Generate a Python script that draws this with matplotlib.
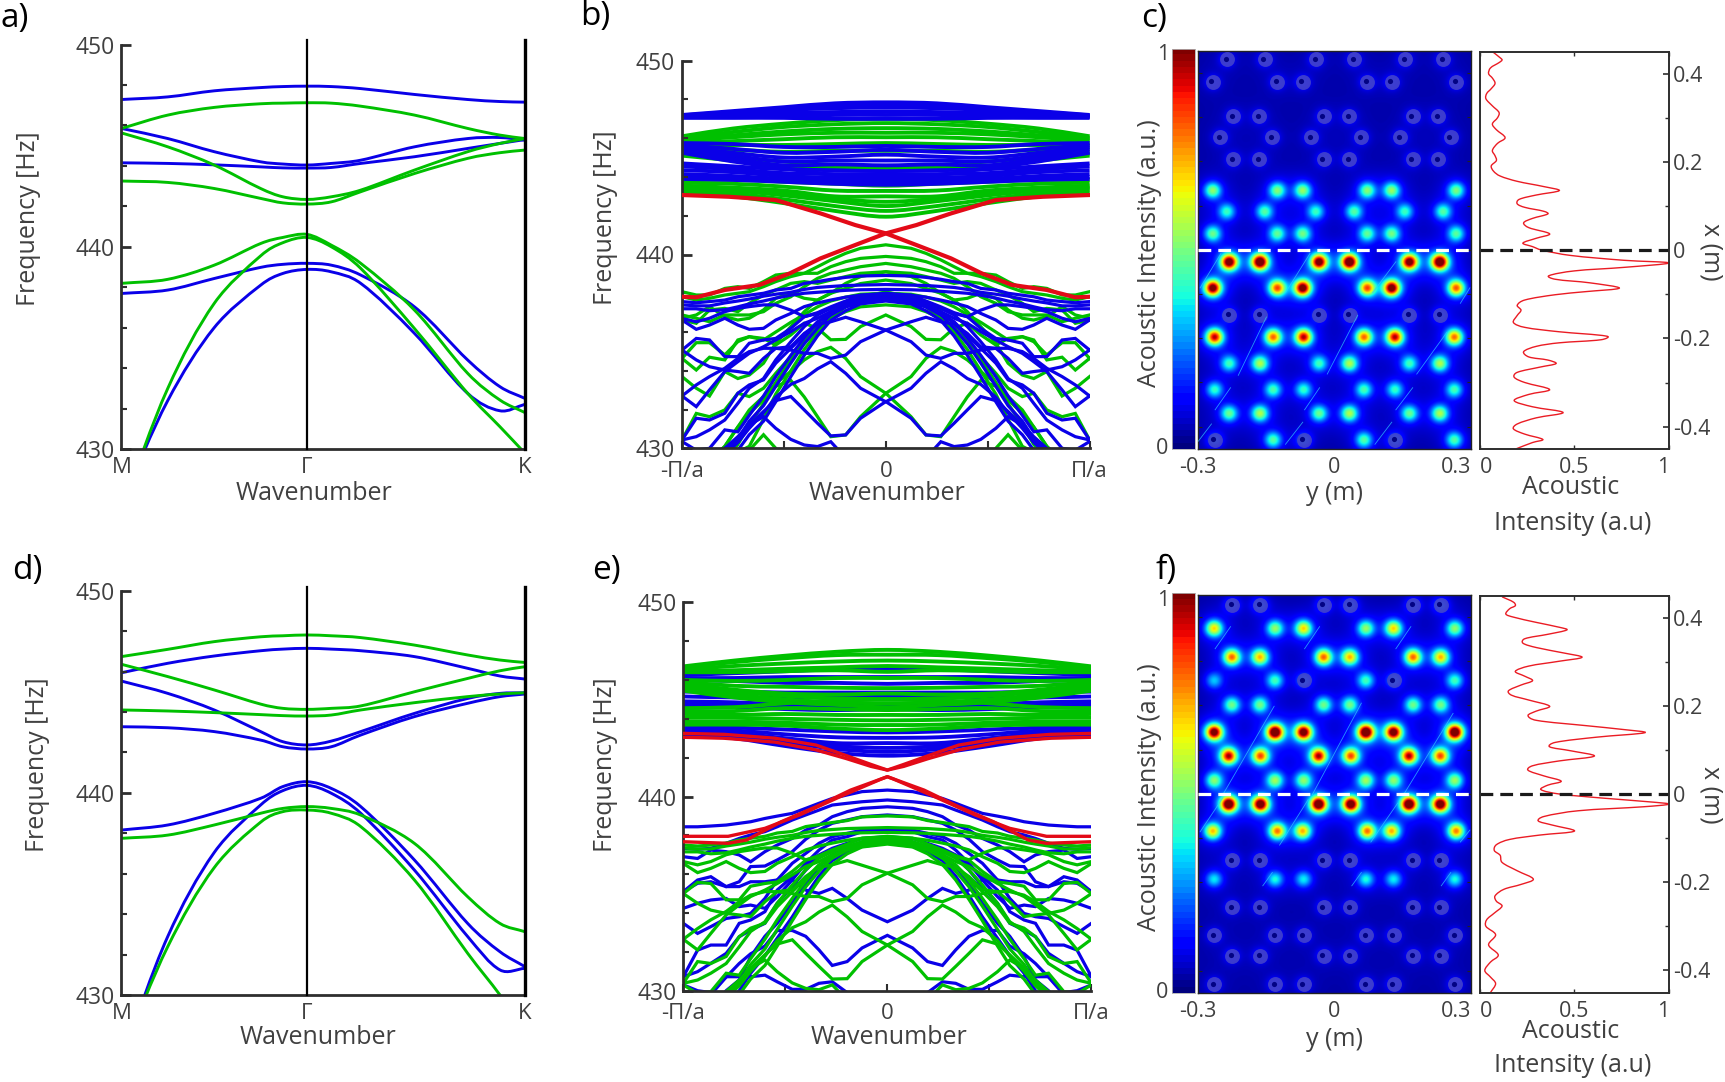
import numpy as np
import matplotlib
matplotlib.use("Agg")
import matplotlib.pyplot as plt
from matplotlib.path import Path
from matplotlib.patches import PathPatch

plt.rcParams['font.family'] = ['Open Sans', 'DejaVu Sans']

W, H = 1725, 1082
BLUE = '#0a00e8'
GREEN = '#00c000'
RED = '#e30a17'
TEXT = '#404040'
DARK = '#2e2e2e'

# --- bulk bands, panels a and d (M -> Gamma -> K) ---
ak = [0, .115, .23, .345, .40, .46, .52, .593, .726, .858, .938, 1]
a_blue = [
    [447.28, 447.41, 447.71, 447.87, 447.92, 447.94, 447.92, 447.82, 447.53, 447.28, 447.18, 447.15],
    [445.85, 445.35, 444.70, 444.20, 444.09, 444.04, 444.12, 444.28, 444.94, 445.35, 445.40, 445.27],
    [444.15, 444.12, 444.05, 443.95, 443.90, 443.89, 443.92, 444.12, 444.45, 444.86, 445.11, 445.30],
    [437.69, 437.86, 438.43, 438.98, 439.13, 439.18, 439.09, 438.60, 437.03, 434.40, 433.08, 432.50],
    [427.30, 432.40, 436.00, 438.10, 438.68, 438.88, 438.76, 438.19, 435.72, 432.75, 431.89, 432.21],
]
a_green = [
    [445.85, 446.51, 446.89, 447.07, 447.10, 447.12, 447.10, 446.95, 446.51, 445.85, 445.52, 445.35],
    [445.63, 444.94, 444.04, 442.88, 442.47, 442.34, 442.47, 442.80, 443.79, 444.70, 445.11, 445.35],
    [443.25, 443.18, 442.88, 442.39, 442.17, 442.11, 442.22, 442.72, 443.62, 444.37, 444.65, 444.78],
    [438.19, 438.39, 439.09, 440.16, 440.46, 440.61, 440.08, 439.18, 436.87, 433.74, 432.42, 431.80],
    [427.00, 433.00, 437.20, 439.55, 440.20, 440.46, 440.00, 438.93, 435.96, 432.75, 431.10, 429.79],
]
d_blue = [
    [445.94, 446.41, 446.77, 447.03, 447.11, 447.15, 447.11, 447.03, 446.74, 446.16, 445.78, 445.63],
    [445.53, 444.92, 444.10, 443.03, 442.53, 442.37, 442.56, 443.03, 443.93, 444.67, 444.92, 444.95],
    [443.27, 443.22, 443.03, 442.61, 442.28, 442.17, 442.28, 442.86, 443.77, 444.43, 444.76, 444.89],
    [438.16, 438.41, 438.99, 439.73, 440.31, 440.55, 440.22, 439.32, 436.68, 433.54, 432.14, 431.40],
    [426.80, 432.90, 437.05, 439.40, 440.11, 440.37, 439.98, 438.99, 436.18, 432.89, 431.24, 431.32],
]
d_green = [
    [446.74, 447.10, 447.48, 447.72, 447.77, 447.81, 447.77, 447.68, 447.31, 446.82, 446.57, 446.45],
    [446.36, 445.75, 445.09, 444.39, 444.18, 444.13, 444.18, 444.30, 445.00, 445.66, 446.04, 446.24],
    [444.10, 444.05, 443.97, 443.87, 443.82, 443.80, 443.85, 444.10, 444.46, 444.76, 444.89, 444.95],
    [437.75, 437.91, 438.41, 438.99, 439.23, 439.32, 439.23, 438.90, 437.50, 434.86, 433.54, 433.13],
    [427.00, 432.40, 436.30, 438.55, 439.07, 439.15, 438.99, 438.33, 435.69, 432.06, 430.00, 428.20],
]

# --- supercell bands, panels b and e: half zone, mirrored when drawn ---
upper_k = [-1, -.75, -.5, -.25, 0]
lower_k = [-1, -.93, -.865, -.79, -.726, -.67, -.60, -.54, -.466, -.40, -.335, -.27, -.197, -.124, 0]

b_upper_green = [
    [446.10, 446.50, 446.75, 446.93, 447.00], [446.02, 446.32, 446.58, 446.72, 446.78],
    [445.95, 446.15, 446.35, 446.48, 446.52], [445.88, 446.05, 446.20, 446.28, 446.28],
    [445.75, 445.85, 445.95, 446.05, 446.05], [445.60, 445.65, 445.65, 445.70, 445.75],
    [445.40, 445.40, 445.30, 445.35, 445.35],
    [445.20, 445.00, 444.80, 444.60, 444.50], [445.10, 444.85, 444.55, 444.45, 444.35],
    [443.85, 443.85, 443.75, 443.65, 443.55], [443.70, 443.65, 443.50, 443.30, 443.28],
    [443.55, 443.45, 443.30, 443.00, 443.00], [443.48, 443.38, 443.18, 442.88, 442.72],
    [443.40, 443.30, 443.05, 442.75, 442.50], [443.30, 443.15, 442.85, 442.50, 442.25],
    [443.20, 443.00, 442.65, 442.25, 441.95],
]
b_upper_blue = [
    [447.20, 447.40, 447.60, 447.80, 447.85], [447.18, 447.35, 447.52, 447.68, 447.72],
    [447.15, 447.30, 447.45, 447.55, 447.58], [447.10, 447.20, 447.30, 447.35, 447.38],
    [447.10, 447.15, 447.15, 447.20, 447.20], [447.05, 447.05, 447.05, 447.00, 447.00],
    [445.75, 445.70, 445.55, 445.55, 445.60], [445.65, 445.45, 445.25, 445.30, 445.40],
    [445.55, 445.25, 445.00, 445.05, 445.15], [445.45, 445.10, 444.80, 444.85, 444.85],
    [445.30, 444.95, 444.60, 444.65, 444.60], [445.25, 444.80, 444.45, 444.10, 443.95],
    [444.70, 444.55, 444.40, 444.35, 444.30], [444.55, 444.40, 444.20, 444.15, 444.15],
    [444.35, 444.25, 444.05, 443.95, 443.92], [444.15, 444.05, 443.90, 443.80, 443.78],
    [444.00, 443.90, 443.80, 443.70, 443.65], [443.90, 443.85, 443.75, 443.65, 443.60],
]
b_lower_green = [
    [438.08, 437.91, 437.91, 438.25, 438.34, 438.25, 438.60, 438.94, 439.03, 439.03, 439.37, 439.72, 440.06, 440.32, 440.50],
    [437.82, 437.65, 437.74, 437.91, 438.00, 438.08, 438.34, 438.60, 438.86, 439.03, 439.03, 439.37, 439.63, 439.80, 439.90],
    [436.88, 436.71, 436.53, 436.88, 436.88, 436.88, 437.05, 437.48, 437.82, 438.34, 438.77, 439.03, 439.20, 439.37, 439.54],
    [436.71, 436.88, 437.31, 436.79, 436.62, 436.71, 437.14, 437.74, 438.00, 437.74, 437.65, 438.00, 438.51, 438.86, 439.11],
    [434.64, 435.45, 435.45, 434.82, 435.50, 435.76, 435.67, 435.33, 435.85, 436.45, 436.20, 435.60, 435.62, 436.28, 436.88],
    [428.70, 428.90, 429.40, 430.10, 431.10, 431.98, 432.67, 433.35, 433.96, 434.56, 434.99, 435.21, 434.64, 433.70, 432.84],
    [427.00, 427.00, 427.00, 428.00, 429.00, 429.90, 430.70, 430.00, 429.00, 428.00, 428.00, 428.00, 428.00, 428.00, 428.00],
    [428.00, 428.50, 429.20, 430.10, 431.10, 431.80, 432.50, 433.20, 433.50, 432.65, 431.63, 430.60, 430.69, 431.63, 432.84],
    [430.43, 431.80, 431.63, 431.98, 432.84, 432.67, 433.10, 433.87, 434.73, 435.42, 436.20, 436.70, 437.05, 437.30, 437.40],
    [433.70, 433.10, 432.70, 433.96, 433.60, 433.78, 434.39, 435.42, 436.28, 437.05, 437.65, 438.00, 438.25, 438.50, 438.68],
    [427.00, 428.00, 429.00, 429.50, 429.80, 430.10, 431.50, 432.80, 434.00, 435.10, 436.00, 436.70, 437.30, 437.80, 438.05],
    [426.50, 427.50, 428.50, 429.40, 430.20, 431.20, 432.30, 433.40, 434.60, 435.60, 436.45, 437.05, 437.50, 437.85, 438.05],
    [436.62, 436.45, 437.14, 437.22, 437.05, 437.48, 437.91, 438.17, 438.51, 438.60, 438.51, 438.68, 438.86, 439.03, 439.11],
    [434.64, 434.04, 434.70, 434.56, 435.59, 435.76, 435.59, 436.00, 436.50, 436.90, 437.30, 437.60, 437.80, 437.95, 438.00],
]
b_lower_blue = [
    [428.50, 428.80, 429.20, 429.70, 430.30, 431.03, 431.83, 432.64, 433.30, 433.60, 434.10, 434.47, 433.87, 433.10, 432.40],
    [428.50, 428.80, 429.20, 430.00, 430.43, 431.20, 431.90, 432.46, 432.67, 431.98, 431.29, 430.64, 430.69, 431.55, 432.41],
    [428.00, 428.50, 429.20, 430.00, 430.60, 431.20, 431.63, 431.03, 430.46, 430.17, 430.09, 430.34, 429.50, 429.00, 428.90],
    [435.07, 435.67, 435.59, 434.73, 434.73, 435.42, 435.59, 435.67, 436.19, 436.79, 436.96, 437.22, 437.48, 437.74, 437.91],
    [435.07, 434.56, 434.21, 434.04, 433.96, 433.87, 434.64, 435.16, 435.24, 435.93, 436.40, 436.53, 436.76, 436.53, 436.10],
    [432.70, 432.15, 433.01, 433.96, 434.47, 434.90, 435.24, 435.59, 436.02, 436.45, 436.71, 437.05, 437.31, 437.48, 437.65],
    [432.70, 433.27, 433.70, 434.13, 434.64, 434.99, 435.16, 435.16, 435.07, 434.90, 434.90, 434.64, 434.81, 435.50, 436.10],
    [430.43, 431.55, 431.46, 431.81, 432.84, 433.27, 433.53, 434.39, 435.16, 435.84, 436.53, 436.88, 437.31, 437.57, 437.65],
    [430.43, 430.60, 430.95, 431.46, 432.32, 433.10, 433.60, 434.56, 435.50, 436.28, 436.88, 437.22, 437.48, 437.65, 437.79],
    [427.00, 428.00, 429.00, 429.75, 430.50, 431.40, 432.20, 433.20, 434.40, 435.40, 436.20, 436.90, 437.30, 437.60, 437.75],
    [426.60, 427.60, 428.40, 429.20, 429.90, 430.70, 431.40, 432.40, 433.70, 434.80, 435.80, 436.60, 437.10, 437.45, 437.60],
    [430.35, 429.90, 430.00, 430.95, 430.85, 431.70, 432.70, 433.70, 434.80, 435.70, 436.50, 437.00, 437.35, 437.60, 437.70],
    [436.62, 436.14, 436.36, 436.71, 436.36, 436.14, 436.19, 436.62, 436.96, 437.31, 437.50, 437.65, 437.80, 437.90, 437.95],
    [436.70, 436.53, 436.71, 437.05, 437.22, 437.31, 437.40, 437.40, 437.13, 436.79, 437.00, 437.30, 437.60, 437.90, 438.00],
    [437.57, 437.51, 437.57, 437.65, 437.82, 437.90, 438.00, 438.17, 438.25, 438.51, 438.60, 438.72, 438.82, 438.89, 438.92],
    [437.40, 437.35, 437.35, 437.50, 437.60, 437.70, 437.85, 437.95, 438.05, 438.20, 438.30, 438.35, 438.40, 438.42, 438.45],
    [437.20, 437.20, 437.10, 437.15, 437.30, 437.45, 437.60, 437.75, 437.90, 438.00, 438.05, 438.10, 438.15, 438.18, 438.20],
]
b_red_k = [[-1, -.77, -.54, -.32, -.15, 0], [-1, -.93, -.79, -.62, -.47, -.32, -.15, 0]]
b_red = [[443.07, 442.98, 442.81, 442.12, 441.52, 441.09],
         [437.82, 437.79, 438.17, 438.43, 439.03, 439.80, 440.49, 441.09]]

e_upper_blue = [
    [446.25, 446.35, 446.45, 446.55, 446.60], [446.10, 446.10, 446.15, 446.15, 446.15],
    [446.00, 445.95, 445.85, 445.85, 445.80],
    [445.40, 445.40, 445.35, 445.35, 445.35], [445.15, 445.10, 445.10, 445.15, 445.15],
    [444.90, 444.85, 444.75, 444.70, 444.70], [444.75, 444.72, 444.62, 444.58, 444.60],
    [444.60, 444.60, 444.50, 444.45, 444.50],
    [443.65, 443.55, 443.45, 443.35, 443.30], [443.50, 443.40, 443.20, 443.05, 443.02],
    [443.35, 443.25, 443.00, 442.75, 442.75], [443.30, 443.18, 442.90, 442.60, 442.50],
    [443.25, 443.10, 442.80, 442.45, 442.30], [443.20, 443.00, 442.60, 442.25, 442.10],
]
e_upper_green = [
    [446.70, 447.00, 447.25, 447.45, 447.55], [446.65, 446.92, 447.12, 447.28, 447.30],
    [446.55, 446.72, 446.85, 446.95, 447.00], [446.45, 446.50, 446.58, 446.65, 446.72],
    [446.40, 446.40, 446.45, 446.50, 446.42],
    [446.00, 445.95, 446.00, 446.10, 446.10], [445.90, 445.70, 445.65, 445.60, 445.58],
    [445.80, 445.50, 445.30, 445.25, 445.30], [445.70, 445.40, 445.18, 445.05, 445.02],
    [445.55, 445.25, 445.00, 444.85, 444.80], [445.45, 445.10, 444.85, 444.72, 444.60],
    [444.55, 444.60, 444.80, 444.95, 444.98], [444.40, 444.40, 444.55, 444.50, 444.45],
    [444.25, 444.20, 444.25, 444.20, 444.20], [444.05, 444.05, 444.00, 443.95, 443.92],
    [443.85, 443.85, 443.80, 443.70, 443.68], [443.70, 443.70, 443.65, 443.50, 443.42],
]
e_lower_blue = [
    [438.44, 438.44, 438.48, 438.53, 438.62, 438.70, 438.87, 438.99, 439.13, 439.39, 439.65, 439.90, 440.08, 440.25, 440.33],
    [437.33, 437.28, 437.33, 437.59, 437.84, 438.02, 438.19, 438.44, 438.79, 439.05, 439.30, 439.56, 439.65, 439.73, 439.82],
    [436.90, 436.81, 437.24, 437.16, 436.99, 436.64, 437.16, 437.50, 437.84, 438.27, 438.53, 438.96, 439.22, 439.39, 439.47],
    [435.10, 435.70, 435.87, 435.36, 435.61, 436.39, 436.42, 436.73, 437.16, 437.80, 438.27, 438.62, 438.79, 438.96, 439.05],
    [434.24, 434.50, 434.67, 434.75, 434.33, 434.41, 434.24, 434.84, 435.70, 436.56, 437.24, 437.76, 437.93, 438.19, 438.27],
    [435.10, 435.53, 435.61, 435.36, 435.36, 435.61, 435.61, 435.70, 435.70, 435.18, 435.01, 435.27, 434.75, 434.15, 433.55],
    [429.00, 429.30, 429.80, 430.70, 431.40, 431.90, 432.30, 433.10, 433.10, 432.80, 432.10, 431.30, 431.50, 432.20, 432.85],
    [433.47, 432.95, 433.30, 433.72, 433.81, 433.98, 434.75, 435.70, 436.56, 437.07, 437.59, 437.93, 438.10, 438.27, 438.36],
    [430.72, 432.09, 432.35, 432.35, 433.47, 433.64, 434.07, 435.18, 435.87, 436.47, 436.99, 437.33, 437.59, 437.84, 437.93],
    [430.72, 430.98, 431.41, 431.92, 432.78, 433.12, 433.47, 434.50, 435.36, 436.21, 436.90, 437.24, 437.41, 437.59, 437.67],
    [427.00, 428.00, 429.00, 430.00, 430.55, 431.75, 432.80, 433.47, 434.50, 435.53, 436.39, 436.99, 437.33, 437.60, 437.76],
    [426.70, 427.70, 428.40, 429.40, 430.00, 430.90, 431.80, 432.70, 433.80, 434.90, 435.90, 436.70, 437.15, 437.50, 437.65],
    [430.30, 430.00, 429.90, 430.72, 430.72, 430.72, 430.80, 430.46, 430.07, 430.07, 430.38, 430.46, 429.90, 429.00, 428.50],
]
e_lower_green = [
    [428.40, 428.70, 429.10, 429.65, 430.25, 431.00, 431.78, 432.58, 433.24, 433.55, 434.05, 434.41, 433.80, 433.05, 432.35],
    [428.40, 428.70, 429.10, 429.95, 430.40, 431.15, 431.85, 432.40, 432.62, 431.92, 431.25, 430.60, 430.62, 431.50, 432.35],
    [428.00, 428.50, 429.10, 429.95, 430.55, 431.15, 431.58, 430.98, 430.40, 430.12, 430.05, 430.30, 429.50, 429.00, 428.90],
    [435.00, 435.58, 435.52, 434.68, 434.68, 435.38, 435.52, 435.60, 436.14, 436.72, 436.90, 437.16, 437.42, 437.68, 437.85],
    [435.00, 434.50, 434.15, 433.98, 433.90, 433.82, 434.58, 435.10, 435.20, 435.88, 436.35, 436.48, 436.70, 436.46, 436.05],
    [432.65, 432.10, 432.95, 433.90, 434.42, 434.85, 435.18, 435.52, 435.96, 436.40, 436.65, 437.00, 437.25, 437.42, 437.60],
    [432.65, 433.20, 433.65, 434.08, 434.58, 434.92, 435.10, 435.10, 435.00, 434.85, 434.85, 434.58, 434.75, 435.45, 436.05],
    [430.38, 431.50, 431.40, 431.76, 432.78, 433.22, 433.48, 434.32, 435.10, 435.78, 436.48, 436.82, 437.25, 437.52, 437.60],
    [430.38, 430.55, 430.90, 431.40, 432.26, 433.05, 433.55, 434.50, 435.44, 436.22, 436.82, 437.16, 437.42, 437.60, 437.72],
    [427.00, 428.00, 429.00, 429.70, 430.45, 431.35, 432.15, 433.15, 434.35, 435.35, 436.15, 436.85, 437.25, 437.55, 437.70],
    [426.60, 427.60, 428.30, 429.10, 429.80, 430.60, 431.30, 432.30, 433.60, 434.70, 435.70, 436.50, 437.05, 437.40, 437.55],
    [430.30, 429.85, 429.95, 430.90, 430.80, 431.65, 432.65, 433.65, 434.75, 435.65, 436.45, 436.95, 437.30, 437.55, 437.65],
    [436.55, 436.08, 436.30, 436.65, 436.30, 436.08, 436.14, 436.56, 436.90, 437.25, 437.45, 437.60, 437.75, 437.85, 437.90],
    [436.65, 436.48, 436.65, 437.00, 437.16, 437.25, 437.35, 437.35, 437.08, 436.74, 436.95, 437.25, 437.55, 437.85, 437.95],
    [437.50, 437.45, 437.50, 437.60, 437.76, 437.85, 437.95, 438.12, 438.20, 438.45, 438.55, 438.66, 438.76, 438.95, 439.00],
    [437.35, 437.30, 437.30, 437.45, 437.55, 437.65, 437.80, 437.90, 438.00, 438.15, 438.25, 438.30, 438.35, 438.37, 438.40],
    [437.15, 437.15, 437.05, 437.10, 437.25, 437.40, 437.55, 437.70, 437.85, 437.95, 438.00, 438.05, 438.10, 438.13, 438.15],
]
e_red_k = [[-1, -.8, -.55, -.35, -.2, -.08, 0], [-1, -.8, -.55, -.35, -.2, -.08, 0],
           [-1, -.78, -.6, -.43, -.23, -.03, 0], [-1, -.78, -.69, -.52, -.35, -.18, 0]]
e_red = [[443.25, 443.20, 443.00, 442.65, 442.10, 441.65, 441.36],
         [443.05, 443.00, 442.80, 442.40, 441.95, 441.55, 441.36],
         [437.95, 437.95, 438.36, 439.05, 440.00, 440.90, 441.02],
         [437.67, 437.59, 437.76, 438.70, 439.47, 440.33, 441.02]]

# --- resonator columns (y in m) ---
col_a = [-.237, -.154, -.041, .043, .155, .239]
col_b = [-.268, -.126, -.070, .072, .126, .268]
col_c = [-.223, -.166, -.024, .032, .172, .228]
col_d = [-.252, -.137, -.052, .059, .145, .256]
col_e = [-.232, -.164, -.034, .033, .165, .232]
col_f = [-.264, -.135, -.068, .065, .133, .264]
col_g = [-.226, -.164, -.024, .034, .173, .234]
col_h = [-.265, -.131, -.068, .069, .130, .265]
col_i = [-.233, -.163, -.035, .036, .164, .233]

c_rows = [.431, .380, .302, .255, .205, .135, .087, .037, -.027, -.086, -.147, -.197, -.257, -.316, -.370, -.430]
c_cols = [col_a, col_b, col_c, col_d, col_c, col_b, col_a, col_b, col_e, col_b, col_e, col_f, col_e, col_f, col_e, col_f]
c_levels = [
    [.1] * 6, [.1] * 6, [.1] * 6, [.1] * 6, [.1] * 6,
    [.42, .40, .42, .40, .42, .40], [.32, .35, .32, .35, .32, .35], [.38, .36, .38, .36, .38, .36],
    [.94, 1.0, .92, 1.0, .92, 1.0], [.92, .68, .92, .68, .92, .68], [.12, .12, .12, .12, .12, .12],
    [.80, .66, .80, .66, .80, .66], [.33, .45, .33, .45, .33, .45], [.32, .34, .32, .34, .32, .34],
    [.38, .45, .38, .45, .38, .45], [.18, .36, .18, .36, .18, .36],
]
c_streaks = [
    [(-.296, -.086), (-.250, -.008)], [(-.108, -.097), (-.054, -.008)], [(.084, -.097), (.135, -.027)],
    [(.277, -.121), (.298, -.086)], [(-.212, -.284), (-.150, -.152)], [(-.016, -.281), (.051, -.148)],
    [(.181, -.281), (.247, -.187)], [(-.263, -.362), (-.229, -.312)], [(-.066, -.362), (-.033, -.312)],
    [(.135, -.362), (.172, -.312)], [(-.300, -.433), (-.271, -.394)], [(-.108, -.440), (-.070, -.390)],
    [(.089, -.440), (.126, -.390)],
]
f_rows = [.428, .375, .310, .257, .202, .140, .086, .031, -.023, -.084, -.150, -.193, -.256, -.320, -.366, -.431]
f_cols = [col_g, col_h, col_g, col_h, col_g, col_h, col_i, col_h, col_i, col_b, col_g, col_h, col_g, col_h, col_g, col_h]
f_levels = [
    [.14, .17, .14, .17, .14, .17], [.56, .42, .56, .42, .56, .42], [.66, .58, .66, .58, .66, .58],
    [.24, .33, .18, .33, .18, .33], [.38, .38, .38, .38, .38, .38], [.92, 1.0, .92, 1.0, .92, 1.0],
    [.80, .68, .80, .68, .80, .68], [.40, .42, .40, .42, .40, .42], [1.0, .96, 1.0, .96, 1.0, .96],
    [.58, .64, .58, .64, .58, .64], [.12] * 6, [.28, .30, .28, .30, .28, .30],
    [.1] * 6, [.1] * 6, [.1] * 6, [.1] * 6,
]
f_streaks = [
    [(-.263, .328), (-.229, .378)], [(-.066, .328), (-.033, .378)], [(.135, .328), (.168, .378)],
    [(-.246, -.002), (-.133, .198)], [(-.049, -.002), (.059, .205)], [(.152, -.002), (.261, .182)],
    [(-.296, -.086), (-.246, -.009)], [(-.121, -.116), (-.058, -.013)], [(.080, -.109), (.139, -.021)],
    [(.277, -.109), (.298, -.082)], [(-.158, -.208), (-.137, -.178)], [(.038, -.208), (.059, -.178)],
    [(.235, -.208), (.256, -.178)],
]

# --- intensity profiles along the domain ---
c_prof_x = [.450, .436, .431, .425, .413, .400, .390, .378, .366, .355, .343, .327, .312, .300, .286, .273, .255, .242, .226, .214,
            .203, .191, .179, .168, .156, .144, .135, .125, .115, .105, .097, .088, .082, .072, .062, .051, .037, .027, .016, .008,
            0, -.012, -.023, -.029, -.039, -.047, -.058, -.066, -.074, -.086, -.094, -.101, -.113, -.125, -.136, -.148, -.164, -.175, -.185, -.195,
            -.203, -.210, -.218, -.230, -.242, -.249, -.257, -.265, -.277, -.288, -.300, -.316, -.327, -.341, -.355, -.368, -.380, -.394, -.405, -.417,
            -.429, -.436, -.450]
c_prof_i = [.068, .109, .119, .103, .058, .048, .068, .082, .062, .038, .034, .068, .103, .095, .068, .089, .135, .095, .068, .082,
            .089, .062, .074, .109, .199, .340, .421, .300, .209, .199, .239, .340, .360, .280, .233, .260, .370, .300, .229, .280,
            .330, .481, .763, 1.0, .763, .501, .366, .400, .581, .738, .561, .400, .239, .199, .219, .199, .179, .239, .421, .672,
            .642, .421, .300, .233, .260, .360, .404, .320, .199, .183, .239, .370, .260, .183, .280, .441, .300, .199, .179, .239,
            .334, .280, .195]
f_prof_x = [.447, .435, .427, .420, .408, .401, .389, .378, .372, .362, .352, .342, .332, .320, .310, .301, .290, .278, .267, .257,
            .247, .234, .224, .213, .199, .188, .178, .167, .155, .146, .139, .129, .117, .107, .098, .086, .075, .064, .054, .041,
            .029, .020, .010, 0, -.009, -.018, -.023, -.029, -.038, -.051, -.061, -.070, -.084, -.093, -.103, -.115, -.128, -.139, -.155, -.174,
            -.193, -.205, -.216, -.231, -.243, -.254, -.270, -.285, -.300, -.319, -.342, -.365, -.381, -.400, -.415, -.430, -.450]
f_prof_i = [.119, .179, .189, .159, .139, .179, .300, .421, .461, .360, .239, .229, .300, .441, .541, .421, .260, .189, .239, .280,
            .219, .153, .169, .260, .370, .300, .256, .300, .561, .763, .873, .622, .400, .370, .481, .606, .421, .280, .256, .340,
            .431, .360, .324, .421, .642, .903, 1.0, .863, .521, .340, .310, .380, .501, .320, .159, .089, .078, .109, .119, .199,
            .284, .219, .129, .082, .089, .119, .078, .038, .034, .085, .048, .099, .058, .028, .058, .085, .058]


fig = plt.figure(figsize=(W / 100, H / 100), dpi=100, facecolor='white')


def px_axes(left, top, right, bottom):
    return fig.add_axes([left / W, 1 - bottom / H, (right - left) / W, (bottom - top) / H])


def px_text(x, y, s, size=18, color=TEXT, **kw):
    kw.setdefault('ha', 'center')
    kw.setdefault('va', 'center')
    fig.text(x / W, 1 - y / H, s, fontsize=size, color=color, **kw)


def smooth_line(ax, xs, ys, color, lw):
    # bezier through the given points, knot spacing taken from screen distance
    p = np.column_stack([xs, ys], ).astype(float)
    s = ax.transData.transform(p)
    t = np.r_[0, np.cumsum(np.hypot(*np.diff(s, axis=0).T) ** .5 + 1e-6)]
    verts = [p[0]]
    codes = [Path.MOVETO]
    n = len(p)
    for i in range(n - 1):
        a, b = max(i - 1, 0), min(i + 2, n - 1)
        m1 = (p[i + 1] - p[a]) / (t[i + 1] - t[a])
        m2 = (p[b] - p[i]) / (t[b] - t[i])
        dt = t[i + 1] - t[i]
        verts += [p[i] + m1 * dt / 3, p[i + 1] - m2 * dt / 3, p[i + 1]]
        codes += [Path.CURVE4] * 3
    ax.add_patch(PathPatch(Path(verts, codes), fill=False, edgecolor=color, lw=lw))


def freq_axis(ax):
    ax.set_ylim(430, 450)
    ax.set_yticks([430, 440, 450])
    ax.set_yticks(np.arange(430, 451, 2), minor=True)
    for s in ['top', 'right']:
        ax.spines[s].set_visible(False)
    for s in ['left', 'bottom']:
        ax.spines[s].set_linewidth(2)
        ax.spines[s].set_color(DARK)
    ax.tick_params(axis='y', which='major', direction='in', length=7, width=2, color=DARK, labelsize=16.5, labelcolor=TEXT, pad=5)
    ax.tick_params(axis='y', which='minor', direction='in', length=4, width=1.5, color=DARK)
    ax.patch.set_alpha(0)


def dispersion_panel(rect, blue, green):
    ax = px_axes(*rect)
    freq_axis(ax)
    ax.set_xlim(0, 1)
    ax.set_xticks([0, .46, 1])
    ax.set_xticklabels(['M', 'Γ', 'K'])
    ax.tick_params(axis='x', length=0, labelsize=16, labelcolor=TEXT, pad=6)
    for row in blue:
        smooth_line(ax, ak, row, BLUE, 2.1)
    for row in green:
        smooth_line(ax, ak, row, GREEN, 2.1)
    ax.plot([.46, .46], [430, 450.2], color='black', lw=1.6, clip_on=False, zorder=5)
    ax.plot([1, 1], [430, 450.2], color='black', lw=2.4, clip_on=False, zorder=5)
    return ax


def mirrored(k, v):
    k = np.asarray(k, dtype=float)
    v = np.asarray(v, dtype=float)
    return np.r_[k, -k[-2::-1]], np.r_[v, v[-2::-1]]


def supercell_panel(rect, layers, red_k, red, red_lw):
    ax = px_axes(*rect)
    freq_axis(ax)
    ax.set_xlim(-1, 1)
    ax.set_xticks([-1, 0, 1])
    ax.set_xticklabels(['-Π/a', '0', 'Π/a'])
    ax.set_xticks([-.5, .5], minor=True)
    ax.tick_params(axis='x', which='both', direction='in', length=5, width=1.5, color=DARK, labelsize=16, labelcolor=TEXT, pad=9)
    for k, rows, color, smooth in layers:
        for row in rows:
            x, y = mirrored(k, row)
            if smooth:
                smooth_line(ax, x, y, color, 2.8)
            else:
                ax.plot(x, y, color=color, lw=2.3, solid_joinstyle='miter')
    for k, row in zip(red_k, red):
        x, y = mirrored(k, row)
        ax.plot(x, y, color=RED, lw=red_lw, zorder=6)
    return ax


def field_from_spots(rows, cols, levels, ys, xs):
    yy, xx = np.meshgrid(ys, xs)
    out = np.full(yy.shape, 0.035)
    for x0, col, lev in zip(rows, cols, levels):
        for y0, a in zip(col, lev):
            r2 = (yy - y0) ** 2 + (xx - x0) ** 2
            out += a * np.exp(-r2 / (2 * .0125 ** 2))
            out += .15 * a * np.exp(-r2 / (2 * .03 ** 2))
    return out


def mode_panel(rect_cb, rect_map, rect_prof, rows, cols, levels, streaks, prof_x, prof_i):
    # colour scale
    cb = px_axes(*rect_cb)
    cb.imshow(np.linspace(1, 0, 64)[:, None], cmap='jet', aspect='auto', vmin=0, vmax=1)
    cb.set_xticks([])
    cb.set_yticks([])
    for s in cb.spines.values():
        s.set_color('#b0b0b0')
        s.set_linewidth(.6)

    # acoustic intensity map
    ax = px_axes(*rect_map)
    ys = np.linspace(-.3, .3, 540)
    xs = np.linspace(.45, -.45, 800)
    ax.imshow(field_from_spots(rows, cols, levels, ys, xs), cmap='jet', vmin=0, vmax=1, aspect='auto',
              extent=[-.3, .3, -.45, .45], interpolation='bilinear')
    for x0, col, lev in zip(rows, cols, levels):
        for y0, a in zip(col, lev):
            if a < .2:
                ax.scatter(y0, x0, s=115, color=(.28, .28, .78), alpha=.85, linewidths=0, zorder=3)
                ax.scatter(y0 - .003, x0 + .001, s=14, color=(0, 0, .5), alpha=.95, linewidths=0, zorder=4)
    for p, q in streaks:
        ax.plot([p[0], q[0]], [p[1], q[1]], color='#30c8ff', lw=.6, alpha=.75, zorder=3)
    ax.axhline(0, color='white', lw=2.3, dashes=(4, 2.2), zorder=5)
    ax.set_xlim(-.3, .3)
    ax.set_ylim(-.45, .45)
    ax.set_xticks([-.3, 0, .3])
    ax.set_xticklabels(['-0.3', '0', '0.3'])
    ax.get_xticklabels()[2].set_ha('right')
    ax.set_yticks(np.arange(-.4, .41, .1))
    ax.set_yticklabels([])
    ax.tick_params(axis='x', length=0, labelsize=15.5, labelcolor=TEXT, pad=6)
    ax.tick_params(axis='y', direction='in', length=3, width=.8, color='#222222', left=True, right=True)
    for s in ax.spines.values():
        s.set_color('#222222')
        s.set_linewidth(1)

    # averaged profile
    pr = px_axes(*rect_prof)
    pr.set_xlim(0, 1)
    pr.set_ylim(-.45, .45)
    smooth_line(pr, prof_i, prof_x, '#ea1c24', 1.0)
    pr.axhline(0, color='#1a1a1a', lw=2.3, dashes=(4, 2.2))
    pr.set_xticks([0, .5, 1])
    pr.set_xticklabels(['0', '0.5', '1'])
    pr.get_xticklabels()[0].set_ha('left')
    pr.get_xticklabels()[2].set_ha('right')
    pr.tick_params(axis='x', direction='in', length=3, width=1, top=True, color=DARK, labelsize=15.5, labelcolor=TEXT, pad=6)
    pr.yaxis.tick_right()
    pr.set_yticks([-.4, -.2, 0, .2, .4])
    pr.set_yticklabels(['-0.4', '-0.2', '0', '0.2', '0.4'])
    pr.set_yticks(np.arange(-.4, .41, .1), minor=True)
    pr.tick_params(axis='y', which='major', direction='in', length=4, width=1.2, color=DARK, labelsize=15.5, labelcolor=TEXT, pad=3)
    pr.tick_params(axis='y', which='minor', direction='in', length=3, width=1, color=DARK)
    for s in pr.spines.values():
        s.set_color(DARK)
        s.set_linewidth(1.4)
    return ax, pr


dispersion_panel((121.4, 44.5, 525, 449), a_blue, a_green)
dispersion_panel((121.4, 590.7, 525, 995), d_blue, d_green)

supercell_panel((682, 60.7, 1089.6, 448.3),
                [(upper_k, b_upper_green, GREEN, True), (lower_k, b_lower_green, GREEN, False),
                 (upper_k, b_upper_blue, BLUE, True), (lower_k, b_lower_blue, BLUE, False)],
                b_red_k, b_red, 3.0)
supercell_panel((683.3, 602.3, 1091.4, 990.7),
                [(upper_k, e_upper_blue, BLUE, True), (lower_k, e_lower_blue, BLUE, False),
                 (upper_k, e_upper_green, GREEN, True), (lower_k, e_lower_green, GREEN, False)],
                e_red_k, e_red, 2.4)

mode_panel((1172, 49.2, 1194.5, 449.4), (1198.3, 51, 1470.8, 448.7), (1479.5, 51.6, 1669, 448.7),
           c_rows, c_cols, c_levels, c_streaks, c_prof_x, c_prof_i)
mode_panel((1172, 593, 1194.5, 993), (1198.3, 594.8, 1470.8, 992.8), (1479.5, 595.5, 1669, 992.5),
           f_rows, f_cols, f_levels, f_streaks, f_prof_x, f_prof_i)

# axis titles
for x, y in [(28.6, 219), (37.5, 765), (606, 218), (606, 765)]:
    px_text(x, y, 'Frequency [Hz]', rotation=90)
for x, y in [(314, 493), (318, 1037), (887.5, 493), (889, 1037)]:
    px_text(x, y, 'Wavenumber')
for y in [253, 797]:
    px_text(1150, y, 'Acoustic Intensity (a.u.)', rotation=90)
for y in [252, 795]:
    px_text(1710.6, y, 'x (m)', rotation=270)
for y in [494, 1039]:
    px_text(1334, y, 'y (m)')
for y1, y2 in [(488, 523), (1032, 1066)]:
    px_text(1571, y1, 'Acoustic')
    px_text(1573, y2, 'Intensity (a.u)')
for y1, y0 in [(55, 449), (601, 993)]:
    px_text(1163, y1, '1', size=15.5)
    px_text(1162, y0, '0', size=15.5)

for x, y, s in [(0, 18, 'a)'), (580, 17, 'b)'), (1141, 18, 'c)'),
                (12.5, 570, 'd)'), (592, 570, 'e)'), (1155, 570, 'f)')]:
    px_text(x, y, s, size=24, color='black', ha='left')

fig.savefig('out.png', dpi=100)
